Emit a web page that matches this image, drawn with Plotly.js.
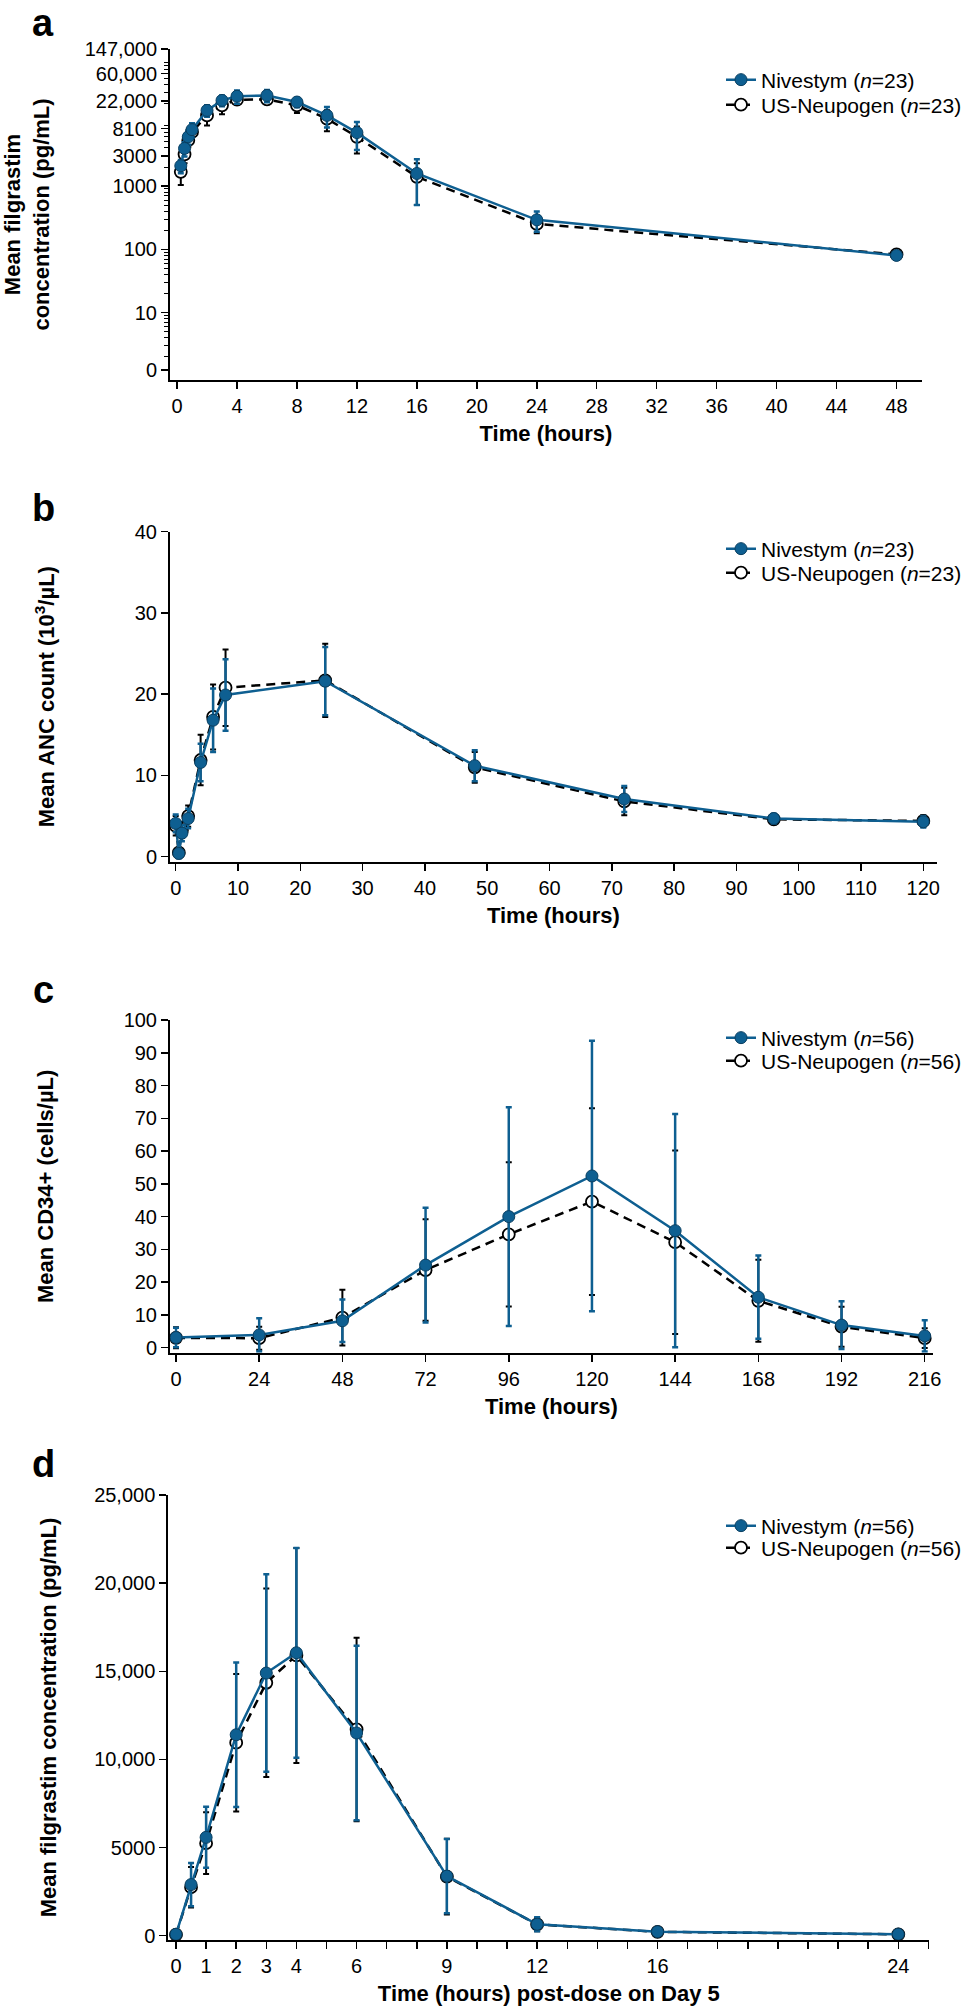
<!DOCTYPE html>
<html>
<head>
<meta charset="utf-8">
<script src="https://cdn.plot.ly/plotly-3.0.1.min.js"></script>
<style>html,body{margin:0;padding:0;background:#fff;}#chart{width:969px;height:2007px;}</style>
</head>
<body>
<div id="chart"></div>
<script>
// ---------- Panel a: filgrastim PK (log scale) ----------
const timeA = [0.25, 0.5, 0.75, 1, 2, 3, 4, 6, 8, 10, 12, 16, 24, 48];
const nivA = [2090, 3930, 6000, 7800, 15700, 22600, 26300, 27100, 21300, 13100, 7000, 1580, 292, 80];
const neuA = [1680, 3170, 5300, 7170, 13100, 18900, 23200, 23400, 18900, 11600, 6000, 1400, 252, 83];
const nivAsd = [500, 1000, 1500, 2000, 3200, 4300, 6200, 5900, 3700, 4700, 3300, 1080, 102, 10];
const neuAsd = [640, 870, 1200, 1500, 4000, 5300, 3600, 3300, 4600, 4240, 2730, 900, 72, 10];
const tickValsA = [1.23, 10, 100, 1000, 3000, 8100, 22000, 60000, 147000];
const tickTextA = ["0", "10", "100", "1000", "3000", "8100", "22,000", "60,000", "147,000"];

// ---------- Panel b: ANC ----------
const timeB = [0, 0.5, 1, 2, 4, 6, 8, 24, 48, 72, 96, 120];
const nivB = [4.1, 0.4, 2.9, 4.7, 11.6, 16.8, 19.9, 21.6, 11.2, 7.1, 4.7, 4.3];
const neuB = [3.8, 0.5, 3.3, 5.0, 11.9, 17.2, 20.8, 21.7, 11.0, 6.8, 4.6, 4.4];
const nivBsd = [1.1, 0.6, 1.0, 1.2, 2.3, 3.9, 4.4, 4.2, 1.9, 1.6, 0.6, 0.7];
const neuBsd = [1.2, 0.6, 1.0, 1.3, 3.1, 4.0, 4.7, 4.5, 1.9, 1.7, 0.6, 0.7];

// ---------- Panel c: CD34+ ----------
const timeC = [0, 24, 48, 72, 96, 120, 144, 168, 192, 216];
const nivC = [3.1, 3.9, 8.2, 25.2, 40.0, 52.4, 35.7, 15.4, 6.9, 3.6];
const neuC = [3.0, 2.9, 9.2, 23.7, 34.6, 44.6, 32.2, 14.3, 6.4, 2.9];
const nivCsd = [3.0, 5.1, 6.5, 17.5, 33.4, 41.3, 35.6, 12.7, 7.3, 4.8];
const neuCsd = [3.2, 3.5, 8.5, 15.5, 22.0, 28.5, 28.0, 12.5, 6.1, 3.0];

// ---------- Panel d: filgrastim PK on Day 5 ----------
const timeD = [0, 0.5, 1, 2, 3, 4, 6, 9, 12, 16, 24];
const nivD = [80, 2900, 5580, 11400, 14900, 16050, 11500, 3380, 650, 230, 90];
const neuD = [60, 2750, 5250, 10950, 14350, 15900, 11700, 3350, 640, 220, 80];
const nivDsd = [40, 1230, 1730, 4100, 5600, 5950, 4950, 2100, 400, 60, 40];
const neuDsd = [30, 1150, 1750, 3900, 5350, 6100, 5200, 2150, 380, 60, 40];
const tickValsD = [0, 1, 2, 3, 4, 6, 9, 12, 16, 24];

const legendA = ["Nivestym (<i>n</i>=23)", "US-Neupogen (<i>n</i>=23)"];
const legendC = ["Nivestym (<i>n</i>=56)", "US-Neupogen (<i>n</i>=56)"];

// ---------- styling ----------
const W = 969, H = 2007;
const BLUE = "#0e5f91";
const FONT = "Arial, 'Liberation Sans', sans-serif";
const px2x = (a, b) => [a / W, b / W];
const px2y = (top, bottom) => [1 - bottom / H, 1 - top / H];

function pair(x, niv, neu, nivSd, neuSd, ax, lgNiv, lgNeu, names) {
  const sfx = ax === 1 ? "" : String(ax);
  const neuTr = {
    x: x, y: neu, type: "scatter", mode: "lines+markers", name: names[1],
    xaxis: "x" + sfx, yaxis: "y" + sfx, legend: lgNeu, cliponaxis: false,
    line: {color: "#000", width: 2.5, dash: "9px,6px"},
    marker: {symbol: "circle", size: 12, color: "#fff", line: {color: "#000", width: 1.8}},
    error_y: {type: "data", array: neuSd, symmetric: true, color: "#000", thickness: 2, width: 3}
  };
  const nivTr = {
    x: x, y: niv, type: "scatter", mode: "lines+markers", name: names[0],
    xaxis: "x" + sfx, yaxis: "y" + sfx, legend: lgNiv, cliponaxis: false,
    line: {color: BLUE, width: 2.5},
    marker: {symbol: "circle", size: 12, color: BLUE, line: {color: "#0a3f61", width: 1}},
    error_y: {type: "data", array: nivSd, symmetric: true, color: BLUE, thickness: 2.5, width: 3}
  };
  return [neuTr, nivTr];
}

const data = [].concat(
  pair(timeA, nivA, neuA, nivAsd, neuAsd, 1, "legend", "legend5", legendA),
  pair(timeB, nivB, neuB, nivBsd, neuBsd, 2, "legend2", "legend6", legendA),
  pair(timeC, nivC, neuC, nivCsd, neuCsd, 3, "legend3", "legend7", legendC),
  pair(timeD, nivD, neuD, nivDsd, neuDsd, 4, "legend4", "legend8", legendC)
);

const tickFont = {family: FONT, size: 20, color: "#000"};
const titleFont = {family: FONT, size: 22, color: "#000", weight: 700};
function baseAxis(extra) {
  return Object.assign({
    showline: true, linecolor: "#000", linewidth: 2,
    ticks: "outside", ticklen: 7, tickwidth: 1.5, tickcolor: "#000",
    showgrid: false, zeroline: false, tickfont: tickFont, fixedrange: true
  }, extra);
}

// minor log ticks for panel a (axis decoration only)
const minorA = [];
for (let e = 0; e <= 5; e++) for (let m = 2; m <= 9; m++) {
  const v = m * Math.pow(10, e);
  if (v < 147000) minorA.push(v);
}

function legendAt(xPx, yPx) {
  return {
    x: xPx / W, y: 1 - yPx / H, xref: "paper", yref: "paper", xanchor: "left", yanchor: "middle",
    bgcolor: "rgba(0,0,0,0)", borderwidth: 0,
    font: {family: FONT, size: 21, color: "#000"}
  };
}

const LX = 721;
const layout = {
  width: W, height: H, margin: {l: 0, r: 0, t: 0, b: 0},
  paper_bgcolor: "#fff", plot_bgcolor: "#fff", showlegend: true,
  font: {family: FONT, color: "#000"},
  xaxis: baseAxis({domain: px2x(170, 922), anchor: "y", range: [-0.47, 49.7],
    tickmode: "array", tickvals: [0,4,8,12,16,20,24,28,32,36,40,44,48],
    title: {text: "Time (hours)", font: titleFont, standoff: 10}}),
  yaxis: baseAxis({domain: px2y(49, 380), anchor: "x", type: "log", range: [-0.067, 5.167],
    tickmode: "array", tickvals: tickValsA, ticktext: tickTextA,
    minor: {tickmode: "array", tickvals: minorA, ticks: "outside", ticklen: 4, tickwidth: 1, tickcolor: "#000"},
    title: {text: "Mean filgrastim<br>concentration (pg/mL)", font: titleFont, standoff: 30}}),
  xaxis2: baseAxis({domain: px2x(170, 936.7), anchor: "y2", range: [-0.915, 122.15],
    tickmode: "array", tickvals: [0,10,20,30,40,50,60,70,80,90,100,110,120],
    title: {text: "Time (hours)", font: titleFont, standoff: 10}}),
  yaxis2: baseAxis({domain: px2y(531.7, 861.7), anchor: "x2", range: [-0.615, 40],
    tickmode: "array", tickvals: [0,10,20,30,40],
    title: {text: "Mean ANC count (10<sup>3</sup>/µL)", font: titleFont, standoff: 74}}),
  xaxis3: baseAxis({domain: px2x(170, 932.7), anchor: "y3", range: [-1.73, 218.3],
    tickmode: "array", tickvals: [0,24,48,72,96,120,144,168,192,216],
    title: {text: "Time (hours)", font: titleFont, standoff: 10}}),
  yaxis3: baseAxis({domain: px2y(1020, 1352.7), anchor: "x3", range: [-1.53, 100],
    tickmode: "array", tickvals: [0,10,20,30,40,50,60,70,80,90,100],
    title: {text: "Mean CD34+ (cells/µL)", font: titleFont, standoff: 64}}),
  xaxis4: baseAxis({domain: px2x(168.3, 929.3), anchor: "y4", range: [-0.256, 25.03],
    tickmode: "array", tickvals: tickValsD,
    minor: {tickmode: "linear", tick0: 0, dtick: 1, ticks: "outside", ticklen: 7, tickwidth: 1.5, tickcolor: "#000"},
    title: {text: "Time (hours) post-dose on Day 5", font: titleFont, standoff: 10}}),
  yaxis4: baseAxis({domain: px2y(1495, 1940), anchor: "x4", range: [-243, 25000],
    tickmode: "array", tickvals: [0,5000,10000,15000,20000,25000],
    ticktext: ["0","5000","10,000","15,000","20,000","25,000"],
    title: {text: "Mean filgrastim concentration (pg/mL)", font: titleFont, standoff: 31}}),
  legend: legendAt(LX, 80),
  legend5: legendAt(LX, 105),
  legend2: legendAt(LX, 549),
  legend6: legendAt(LX, 573),
  legend3: legendAt(LX, 1038),
  legend7: legendAt(LX, 1061),
  legend4: legendAt(LX, 1526),
  legend8: legendAt(LX, 1548),
  annotations: [
    {text: "a", x: 43 / W, y: 1 - 23 / H},
    {text: "b", x: 43 / W, y: 1 - 508 / H},
    {text: "c", x: 43 / W, y: 1 - 990 / H},
    {text: "d", x: 43 / W, y: 1 - 1464 / H}
  ].map(a => Object.assign({xref: "paper", yref: "paper", xanchor: "center", yanchor: "middle",
    showarrow: false, font: {family: FONT, size: 38, color: "#000", weight: 700}}, a))
};

Plotly.newPlot("chart", data, layout, {staticPlot: true, displayModeBar: false});
</script>
</body>
</html>
